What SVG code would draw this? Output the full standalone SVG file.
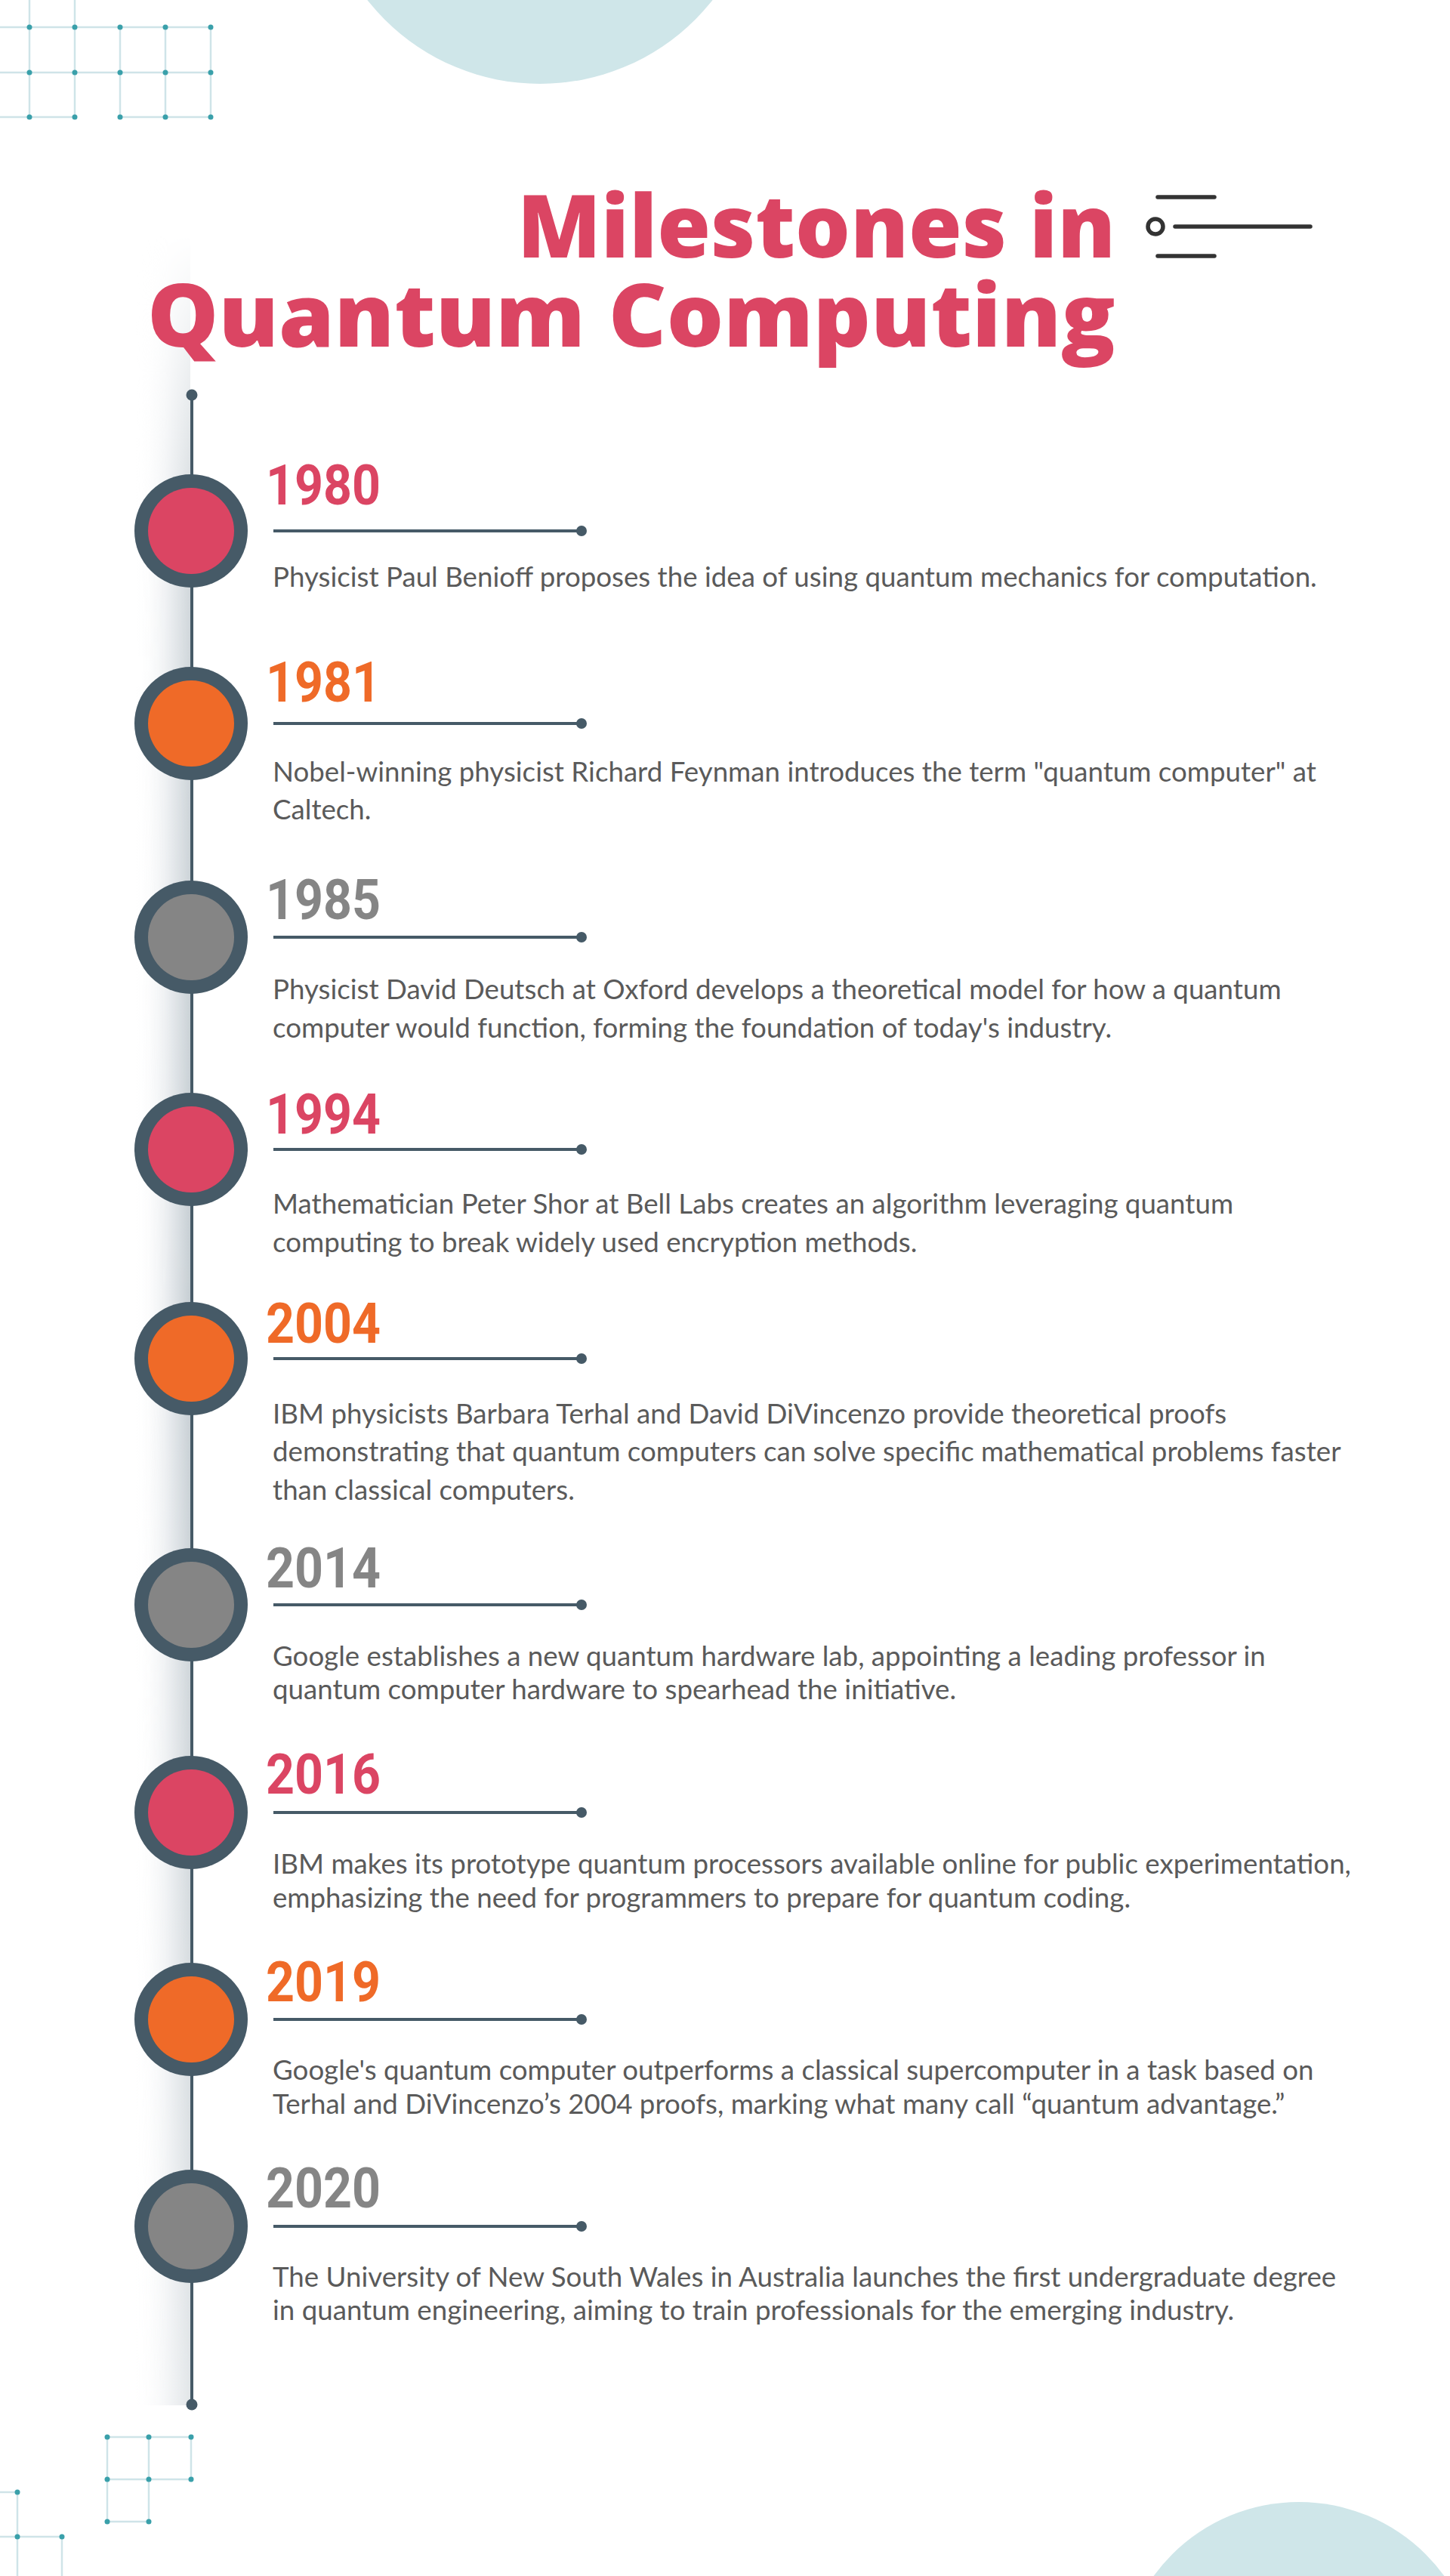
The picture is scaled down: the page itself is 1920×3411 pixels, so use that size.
<svg xmlns="http://www.w3.org/2000/svg" width="1920" height="3411" viewBox="0 0 1920 3411">
<defs>
<style>
.grid line{stroke:#cfe4e8;stroke-width:2.5}
.grid circle{fill:#3aa0aa}
.blob{fill:#cfe6e9}
.title{font-family:"Open Sans","Liberation Sans",sans-serif;font-weight:800;font-size:116px;fill:#db4563}
.icon{stroke:#333333;stroke-width:5.5;stroke-linecap:round;fill:none}
.year{font-family:Roboto,"Liberation Sans",sans-serif;font-weight:700;font-size:74px}
.desc{font-family:Lato,"Noto Sans",sans-serif;font-size:36.7px;fill:#5a5a5a}
.ring{fill:#465a67}
.rule{stroke:#465a67;stroke-width:4}
.dot{fill:#465a67}
.pink{fill:#db4563}
.orange{fill:#ef6a28}
.gray{fill:#858585}
</style>
<linearGradient id="shadowH" x1="0" y1="0" x2="1" y2="0">
<stop offset="0" stop-color="#ffffff" stop-opacity="0"/>
<stop offset="0.6" stop-color="#e8ebee"/>
<stop offset="1" stop-color="#c6ced3"/>
</linearGradient>
<linearGradient id="shadowV" gradientUnits="userSpaceOnUse" x1="0" y1="310" x2="0" y2="3185">
<stop offset="0" stop-color="#ffffff" stop-opacity="0"/>
<stop offset="0.15" stop-color="#ffffff" stop-opacity="0.8"/>
<stop offset="0.5" stop-color="#ffffff" stop-opacity="1"/>
<stop offset="1" stop-color="#ffffff" stop-opacity="0.5"/>
</linearGradient>
<mask id="shadowMask"><rect x="180" y="310" width="80" height="2875" fill="url(#shadowV)"/></mask>
</defs>
<rect width="1920" height="3411" fill="#ffffff"/>
<g id="decor">
<circle class="blob" cx="715" cy="-180" r="291"/>
<circle class="blob" cx="1720" cy="3551" r="238"/>
<g class="grid" id="grid-top">
<line x1="0" y1="36" x2="279" y2="36"/>
<line x1="0" y1="96" x2="279" y2="96"/>
<line x1="0" y1="155" x2="99" y2="155"/>
<line x1="159" y1="155" x2="279" y2="155"/>
<line x1="39" y1="0" x2="39" y2="155"/>
<line x1="99" y1="0" x2="99" y2="155"/>
<line x1="159" y1="36" x2="159" y2="155"/>
<line x1="219" y1="36" x2="219" y2="155"/>
<line x1="279" y1="36" x2="279" y2="155"/>
<circle cx="39" cy="36" r="3.5"/><circle cx="99" cy="36" r="3.5"/><circle cx="159" cy="36" r="3.5"/><circle cx="219" cy="36" r="3.5"/><circle cx="279" cy="36" r="3.5"/>
<circle cx="39" cy="96" r="3.5"/><circle cx="99" cy="96" r="3.5"/><circle cx="159" cy="96" r="3.5"/><circle cx="219" cy="96" r="3.5"/><circle cx="279" cy="96" r="3.5"/>
<circle cx="39" cy="155" r="3.5"/><circle cx="99" cy="155" r="3.5"/><circle cx="159" cy="155" r="3.5"/><circle cx="219" cy="155" r="3.5"/><circle cx="279" cy="155" r="3.5"/>
</g>
<g class="grid" id="grid-bottom">
<line x1="142" y1="3227" x2="253" y2="3227"/>
<line x1="142" y1="3283" x2="253" y2="3283"/>
<line x1="142" y1="3339" x2="197" y2="3339"/>
<line x1="142" y1="3227" x2="142" y2="3339"/>
<line x1="197" y1="3227" x2="197" y2="3339"/>
<line x1="253" y1="3227" x2="253" y2="3283"/>
<circle cx="142" cy="3227" r="3.5"/><circle cx="197" cy="3227" r="3.5"/><circle cx="253" cy="3227" r="3.5"/>
<circle cx="142" cy="3283" r="3.5"/><circle cx="197" cy="3283" r="3.5"/><circle cx="253" cy="3283" r="3.5"/>
<circle cx="142" cy="3339" r="3.5"/><circle cx="197" cy="3339" r="3.5"/>
<line x1="0" y1="3300" x2="23" y2="3300"/>
<line x1="0" y1="3359" x2="82" y2="3359"/>
<line x1="23" y1="3300" x2="23" y2="3411"/>
<line x1="82" y1="3359" x2="82" y2="3411"/>
<circle cx="23" cy="3300" r="3.5"/><circle cx="23" cy="3359" r="3.5"/><circle cx="82" cy="3359" r="3.5"/>
</g>
</g>
<rect x="180" y="310" width="72" height="2875" fill="url(#shadowH)" mask="url(#shadowMask)"/>
<g id="title">
<text class="title" x="685" y="341" textLength="792" lengthAdjust="spacingAndGlyphs">Milestones in</text>
<text class="title" x="195" y="459" textLength="1282" lengthAdjust="spacingAndGlyphs">Quantum Computing</text>
<circle class="icon" cx="1530" cy="300" r="10"/>
<line class="icon" x1="1533" y1="261" x2="1608" y2="261"/>
<line class="icon" x1="1556" y1="300" x2="1735" y2="300"/>
<line class="icon" x1="1533" y1="339" x2="1608" y2="339"/>
</g>
<g id="connectors">
<line x1="254" y1="523" x2="254" y2="3184" stroke="#465a67" stroke-width="4"/>
<circle class="dot" cx="254" cy="523" r="7.5"/>
<circle class="dot" cx="254" cy="3184" r="7.5"/>
</g>
<g id="m1980">
<circle class="ring" cx="253" cy="703" r="75"/><circle class="pink" cx="253" cy="703" r="57"/>
<text class="year pink" x="352" y="668" textLength="152" lengthAdjust="spacingAndGlyphs">1980</text>
<line class="rule" x1="362" y1="703" x2="770" y2="703"/><circle class="dot" cx="770" cy="703" r="7"/>
<text class="desc" x="361" y="777">Physicist Paul Benioff proposes the idea of using quantum mechanics for computation.</text>
</g>
<g id="m1981">
<circle class="ring" cx="253" cy="958" r="75"/><circle class="orange" cx="253" cy="958" r="57"/>
<text class="year orange" x="352" y="929" textLength="152" lengthAdjust="spacingAndGlyphs">1981</text>
<line class="rule" x1="362" y1="958" x2="770" y2="958"/><circle class="dot" cx="770" cy="958" r="7"/>
<text class="desc" x="361" y="1035">Nobel-winning physicist Richard Feynman introduces the term "quantum computer" at</text>
<text class="desc" x="361" y="1085">Caltech.</text>
</g>
<g id="m1985">
<circle class="ring" cx="253" cy="1241" r="75"/><circle class="gray" cx="253" cy="1241" r="57"/>
<text class="year gray" x="352" y="1217" textLength="152" lengthAdjust="spacingAndGlyphs">1985</text>
<line class="rule" x1="362" y1="1241" x2="770" y2="1241"/><circle class="dot" cx="770" cy="1241" r="7"/>
<text class="desc" x="361" y="1323">Physicist David Deutsch at Oxford develops a theoretical model for how a quantum</text>
<text class="desc" x="361" y="1374">computer would function, forming the foundation of today's industry.</text>
</g>
<g id="m1994">
<circle class="ring" cx="253" cy="1522" r="75"/><circle class="pink" cx="253" cy="1522" r="57"/>
<text class="year pink" x="352" y="1501" textLength="152" lengthAdjust="spacingAndGlyphs">1994</text>
<line class="rule" x1="362" y1="1522" x2="770" y2="1522"/><circle class="dot" cx="770" cy="1522" r="7"/>
<text class="desc" x="361" y="1607">Mathematician Peter Shor at Bell Labs creates an algorithm leveraging quantum</text>
<text class="desc" x="361" y="1658">computing to break widely used encryption methods.</text>
</g>
<g id="m2004">
<circle class="ring" cx="253" cy="1799" r="75"/><circle class="orange" cx="253" cy="1799" r="57"/>
<text class="year orange" x="352" y="1778" textLength="152" lengthAdjust="spacingAndGlyphs">2004</text>
<line class="rule" x1="362" y1="1799" x2="770" y2="1799"/><circle class="dot" cx="770" cy="1799" r="7"/>
<text class="desc" x="361" y="1885">IBM physicists Barbara Terhal and David DiVincenzo provide theoretical proofs</text>
<text class="desc" x="361" y="1935">demonstrating that quantum computers can solve specific mathematical problems faster</text>
<text class="desc" x="361" y="1986">than classical computers.</text>
</g>
<g id="m2014">
<circle class="ring" cx="253" cy="2125" r="75"/><circle class="gray" cx="253" cy="2125" r="57"/>
<text class="year gray" x="352" y="2102" textLength="152" lengthAdjust="spacingAndGlyphs">2014</text>
<line class="rule" x1="362" y1="2125" x2="770" y2="2125"/><circle class="dot" cx="770" cy="2125" r="7"/>
<text class="desc" x="361" y="2206">Google establishes a new quantum hardware lab, appointing a leading professor in</text>
<text class="desc" x="361" y="2250">quantum computer hardware to spearhead the initiative.</text>
</g>
<g id="m2016">
<circle class="ring" cx="253" cy="2400" r="75"/><circle class="pink" cx="253" cy="2400" r="57"/>
<text class="year pink" x="352" y="2375" textLength="152" lengthAdjust="spacingAndGlyphs">2016</text>
<line class="rule" x1="362" y1="2400" x2="770" y2="2400"/><circle class="dot" cx="770" cy="2400" r="7"/>
<text class="desc" x="361" y="2481">IBM makes its prototype quantum processors available online for public experimentation,</text>
<text class="desc" x="361" y="2526">emphasizing the need for programmers to prepare for quantum coding.</text>
</g>
<g id="m2019">
<circle class="ring" cx="253" cy="2674" r="75"/><circle class="orange" cx="253" cy="2674" r="57"/>
<text class="year orange" x="352" y="2650" textLength="152" lengthAdjust="spacingAndGlyphs">2019</text>
<line class="rule" x1="362" y1="2674" x2="770" y2="2674"/><circle class="dot" cx="770" cy="2674" r="7"/>
<text class="desc" x="361" y="2754">Google's quantum computer outperforms a classical supercomputer in a task based on</text>
<text class="desc" x="361" y="2799">Terhal and DiVincenzo’s 2004 proofs, marking what many call “quantum advantage.”</text>
</g>
<g id="m2020">
<circle class="ring" cx="253" cy="2948" r="75"/><circle class="gray" cx="253" cy="2948" r="57"/>
<text class="year gray" x="352" y="2923" textLength="152" lengthAdjust="spacingAndGlyphs">2020</text>
<line class="rule" x1="362" y1="2948" x2="770" y2="2948"/><circle class="dot" cx="770" cy="2948" r="7"/>
<text class="desc" x="361" y="3028">The University of New South Wales in Australia launches the first undergraduate degree</text>
<text class="desc" x="361" y="3072">in quantum engineering, aiming to train professionals for the emerging industry.</text>
</g>
</svg>
